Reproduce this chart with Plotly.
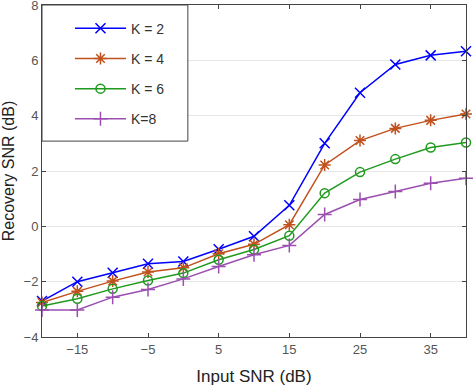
import plotly.graph_objects as go

snr_in = [-20, -15, -10, -5, 0, 5, 10, 15, 20, 25, 30, 35, 40]
k2 = [-2.70, -2.00, -1.68, -1.35, -1.27, -0.83, -0.36, 0.76, 3.00, 4.83, 5.85, 6.18, 6.33]
k4 = [-2.75, -2.35, -1.98, -1.65, -1.50, -0.99, -0.65, 0.06, 2.22, 3.10, 3.54, 3.83, 4.06]
k6 = [-2.88, -2.62, -2.26, -1.96, -1.69, -1.21, -0.84, -0.34, 1.20, 1.96, 2.43, 2.85, 3.03]
k8 = [-3.02, -3.02, -2.56, -2.28, -1.90, -1.45, -1.03, -0.69, 0.43, 0.97, 1.26, 1.56, 1.74]

names = ["K = 2", "K = 4", "K = 6", "K=8"]
series = [k2, k4, k6, k8]
colors = ["#0000ff", "#c0501c", "#1f9a1f", "#9b4fb0"]
symbols = ["x-thin-open", "asterisk-open", "circle-open", "cross-thin-open"]
x_ticks = [-15, -5, 5, 15, 25, 35]
y_ticks = [-4, -2, 0, 2, 4, 6, 8]

fig = go.Figure()
for i, (nm, ys, c, s) in enumerate(zip(names, series, colors, symbols)):
    fig.add_trace(go.Scatter(
        x=snr_in, y=ys, name=nm, mode="lines+markers",
        line=dict(color=c, width=1.5),
        marker=dict(symbol=s, size=10 if i != 2 else 9, color=c,
                    line=dict(color=c, width=1.5)),
        legendgroup=str(i), cliponaxis=False,
    ))

axis_common = dict(
    showline=True, linecolor="#444444", linewidth=1, mirror="ticks",
    ticks="inside", ticklen=4, tickcolor="#444444",
    tickfont=dict(family="Liberation Sans, Arial", size=13, color="#555555"),
    zeroline=False, automargin=False, ticklabeloverflow="allow",
)

fig.update_xaxes(range=[-20, 40], tickvals=x_ticks, showgrid=False,
                 title=dict(text="Input SNR (dB)", standoff=14,
                            font=dict(family="Liberation Sans, Arial", size=17, color="#222222")),
                 **axis_common)
fig.update_yaxes(range=[-4, 8], tickvals=y_ticks, showgrid=True, gridcolor="#e6e6e6", gridwidth=1,
                 title=dict(text="Recovery SNR (dB)", standoff=6,
                            font=dict(family="Liberation Sans, Arial", size=16, color="#222222")),
                 **axis_common)

fig.add_shape(type="rect", xref="paper", yref="paper",
              x0=0, x1=0.344, y0=0.590, y1=1,
              line=dict(color="#444444", width=1), fillcolor="white", layer="above")

fig.update_layout(
    width=474, height=386,
    margin=dict(l=42, r=8, t=5, b=49),
    paper_bgcolor="white", plot_bgcolor="white",
    showlegend=True,
    legend=dict(x=0.066, y=0.977, xanchor="left", yanchor="top",
                bgcolor="rgba(0,0,0,0)", borderwidth=0,
                traceorder="grouped", tracegroupgap=9, itemwidth=51,
                font=dict(family="Liberation Sans, Arial", size=14, color="#333333")),
)

fig.write_html("out.html", config={"displayModeBar": False},
               post_script="document.body.style.margin='0';document.body.style.overflow='hidden';")
